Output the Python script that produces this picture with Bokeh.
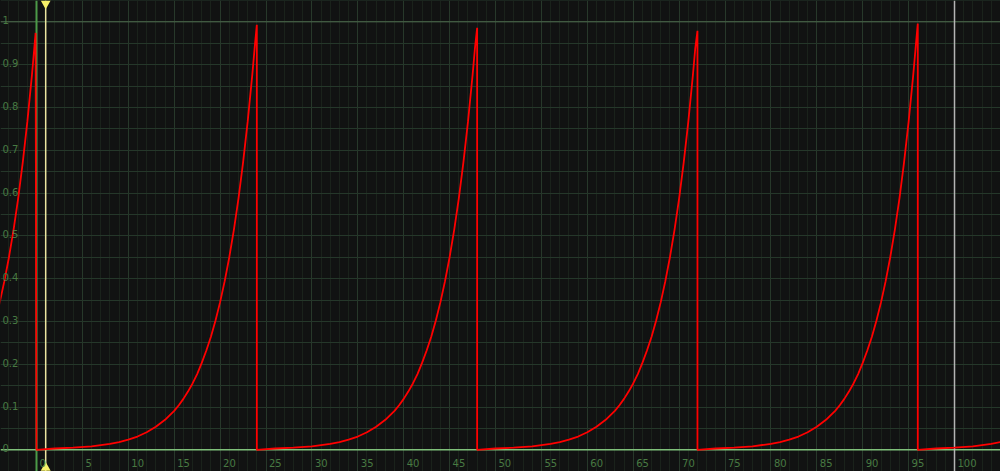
from bokeh.plotting import figure
from bokeh.models import FixedTicker
from bokeh.core.properties import value
from bokeh.embed import file_html
from bokeh.resources import INLINE

# frame / value pairs, one tooth per line
frames = [-5, -4.5, -4, -3.5, -3, -2.5, -2, -1.5, -1, -0.5, -0.25, -0.1,
          0, 2, 4, 6, 8, 9, 10, 11, 12, 13, 14, 15, 15.5, 16, 16.5, 17, 17.5, 18, 18.5, 19, 19.5, 20, 20.5, 21, 21.5, 22, 22.5, 23, 23.5, 23.75, 24,
          24, 26, 28, 30, 32, 33, 34, 35, 36, 37, 38, 39, 39.5, 40, 40.5, 41, 41.5, 42, 42.5, 43, 43.5, 44, 44.5, 45, 45.5, 46, 46.5, 47, 47.5, 47.75, 48,
          48, 50, 52, 54, 56, 57, 58, 59, 60, 61, 62, 63, 63.5, 64, 64.5, 65, 65.5, 66, 66.5, 67, 67.5, 68, 68.5, 69, 69.5, 70, 70.5, 71, 71.5, 71.75, 72,
          72, 74, 76, 78, 80, 81, 82, 83, 84, 85, 86, 87, 87.5, 88, 88.5, 89, 89.5, 90, 90.5, 91, 91.5, 92, 92.5, 93, 93.5, 94, 94.5, 95, 95.5, 95.75, 96,
          96, 98, 100, 102, 104, 105, 106, 107]
values = [0.264, 0.302, 0.345, 0.394, 0.450, 0.514, 0.587, 0.671, 0.766, 0.875, 0.936, 0.974,
          0.0, 0.003, 0.005, 0.008, 0.014, 0.018, 0.024, 0.031, 0.041, 0.054, 0.070, 0.091, 0.104, 0.119, 0.136, 0.155, 0.177, 0.203, 0.232, 0.264, 0.302, 0.345, 0.394, 0.450, 0.514, 0.587, 0.671, 0.766, 0.875, 0.936, 0.993,
          0.0, 0.003, 0.005, 0.008, 0.014, 0.018, 0.024, 0.031, 0.041, 0.054, 0.070, 0.091, 0.104, 0.119, 0.136, 0.155, 0.177, 0.203, 0.232, 0.264, 0.302, 0.345, 0.394, 0.450, 0.514, 0.587, 0.671, 0.766, 0.875, 0.936, 0.986,
          0.0, 0.003, 0.005, 0.008, 0.014, 0.018, 0.024, 0.031, 0.041, 0.054, 0.070, 0.091, 0.104, 0.119, 0.136, 0.155, 0.177, 0.203, 0.232, 0.264, 0.302, 0.345, 0.394, 0.450, 0.514, 0.587, 0.671, 0.766, 0.875, 0.936, 0.979,
          0.0, 0.003, 0.005, 0.008, 0.014, 0.018, 0.024, 0.031, 0.041, 0.054, 0.070, 0.091, 0.104, 0.119, 0.136, 0.155, 0.177, 0.203, 0.232, 0.264, 0.302, 0.345, 0.394, 0.450, 0.514, 0.587, 0.671, 0.766, 0.875, 0.936, 0.996,
          0.0, 0.003, 0.005, 0.008, 0.014, 0.018, 0.024, 0.031]

x_ticks = list(range(0, 105, 5))
x_labels = [str(t) for t in x_ticks]
y_ticks = [0, 0.1, 0.2, 0.3, 0.4, 0.5, 0.6, 0.7, 0.8, 0.9, 1]
y_labels = ["0", "0.1", "0.2", "0.3", "0.4", "0.5", "0.6", "0.7", "0.8", "0.9", "1"]
current_frame = 1
end_frame = 100

bg = "#111212"
label_color = "#487a42"

x0, x1 = -3.922, 105.01
y0, y1 = -0.0507, 1.0498

p = figure(width=1000, height=471, x_range=(x0, x1), y_range=(y0, y1),
           output_backend="svg", toolbar_location=None, tools="",
           background_fill_color=bg, border_fill_color=bg, min_border=0)
p.axis.visible = False
p.outline_line_color = None

p.xgrid.ticker = FixedTicker(ticks=list(range(-5, 110, 5)), minor_ticks=list(range(-4, 107)))
p.xgrid.grid_line_color = "#27382a"
p.xgrid.grid_line_width = 1
p.xgrid.minor_grid_line_color = "#1a221b"
p.ygrid.ticker = FixedTicker(ticks=[-0.05 + 0.05 * i for i in range(23)])
p.ygrid.grid_line_color = "#25372a"
p.ygrid.grid_line_width = 1

# y = 1 and zero lines
p.segment(x0, 1, x1, 1, line_color="#4e6a4c", line_width=1)
p.segment(0, y0, 0, y1, line_color="#4c9a48", line_width=2)
p.segment(x0, 0, x1, 0, line_color="#7fc07a", line_width=1.5)

# end frame and current frame
p.segment(end_frame, y0, end_frame, y1, line_color="#b4b4b4", line_width=1.5)
p.segment(current_frame, y0, current_frame, y1, line_color="#ece6a0", line_width=1.5)

p.line(frames, values, line_color="#ff0000", line_width=1.8)

p.scatter([current_frame], [1.043], marker="inverted_triangle", size=10,
          fill_color="#f6f068", line_color=None)
p.scatter([current_frame], [-0.042], marker="triangle", size=10,
          fill_color="#f6f068", line_color=None)

p.text(x_ticks, [-0.032] * len(x_ticks), text=x_labels, x_offset=3,
       text_color=label_color, text_font=value("DejaVu Sans"), text_font_size="10px",
       text_baseline="alphabetic", text_align="left")
p.text([x0] * len(y_ticks), y_ticks, text=y_labels, x_offset=2, y_offset=-1.5,
       text_color=label_color, text_font=value("DejaVu Sans"), text_font_size="10px",
       text_baseline="alphabetic", text_align="left")

html = file_html(p, INLINE)
html = html.replace("<body>", '<body style="margin:0;background:#111212;overflow:hidden">')
open("out.html", "w").write(html)
